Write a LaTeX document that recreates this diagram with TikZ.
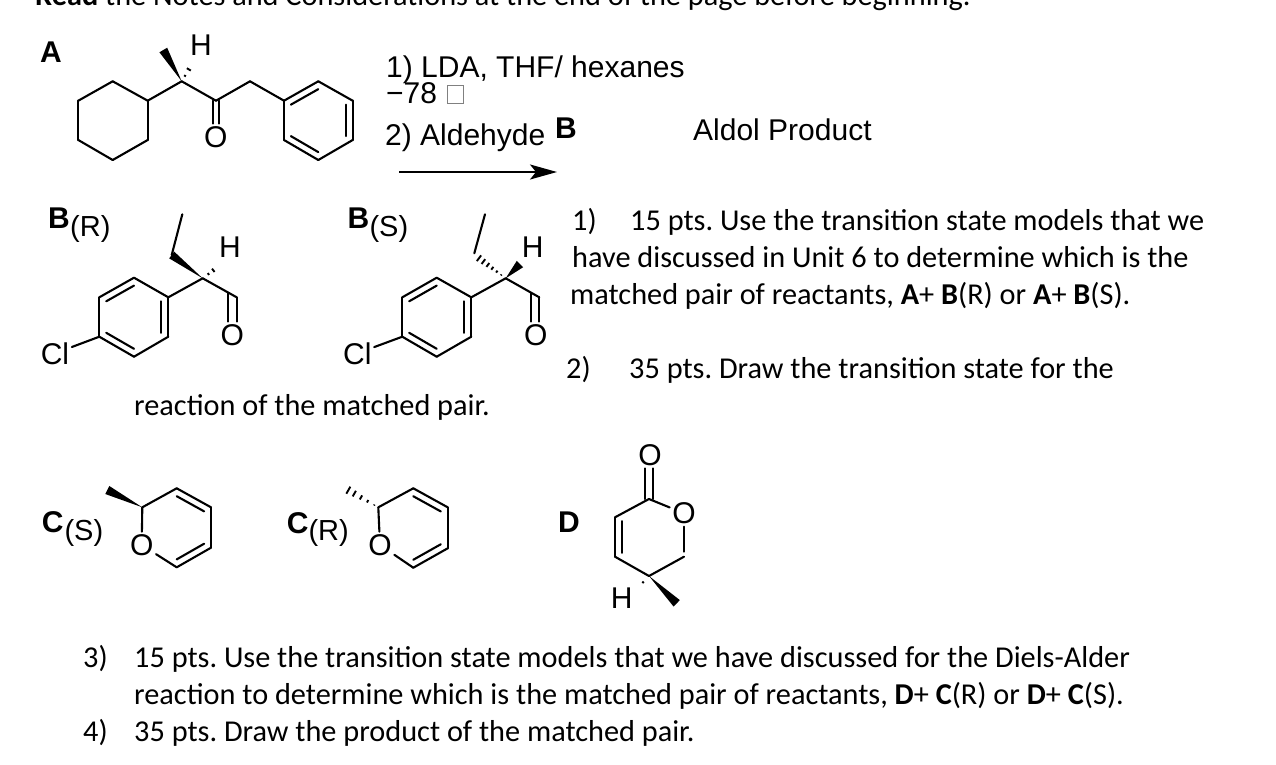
\documentclass[tikz,border=0pt]{standalone}
\usepackage{fontspec}
\usepackage{tikz}
\usetikzlibrary{calc,arrows.meta}
\setmainfont{Carlito}
\newfontfamily\chemfont{Liberation Sans}

\newcommand{\ringbond}[3]{\draw[bond] ($(#1)!0.2!(#3)$) -- ($(#2)!0.2!(#3)$);}
\newcommand{\wedgebond}[3]{\fill[line join=round] (#1) -- ($(#2)!#3!90:(#1)$) -- ($(#2)!#3!-90:(#1)$) -- cycle;}
\newcommand{\hashbond}[4]{\foreach \t in {#4} {
		\coordinate (hashc) at ($(#1)!\t!(#2)$);
		\draw[line width=1.9pt] ($(hashc)!\t*#3!90:(#2)$) -- ($(hashc)!\t*#3!-90:(#2)$);}}

\begin{document}
\frenchspacing
\begin{tikzpicture}[x=1pt,y=-1pt,
		bond/.style={line width=2.1pt,line cap=round,line join=round},
		atom/.style={font=\chemfont\fontsize{30}{32}\selectfont,inner sep=2.5pt},
		body/.style={anchor=base west,inner sep=0pt,yshift=-1pt,font=\fontsize{30.3}{34}\selectfont},
		reagent/.style={anchor=base west,inner sep=0pt,font=\chemfont\fontsize{30}{32}\selectfont},
		tag/.style={anchor=base west,inner sep=0pt,yshift=-1pt,font=\chemfont\bfseries\fontsize{30}{32}\selectfont},
		subtag/.style={anchor=base west,inner sep=0pt,font=\chemfont\fontsize{29}{31}\selectfont}]
	\useasboundingbox (0,0) rectangle (1276,764);

	\node[body] (header) at (35,4) {\textbf{Read} the Notes and Considerations at the end of the page before beginning.};

	\node[tag] (tagA) at (40,61.7) {A};
	\coordinate (a1) at (112.7,81.3);
	\coordinate (a2) at (147.7,100.7);
	\coordinate (a3) at (147.7,140);
	\coordinate (a4) at (112.7,160);
	\coordinate (a5) at (78.3,140);
	\coordinate (a6) at (78.3,100.7);
	\coordinate (a7) at (181.7,81.3);
	\coordinate (a8) at (216,100.7);
	\coordinate (a9) at (250,81.3);
	\coordinate (a10) at (284,100.7);
	\coordinate (a11) at (318.3,81.3);
	\coordinate (a12) at (352.7,100.7);
	\coordinate (a13) at (352.7,140);
	\coordinate (a14) at (318.3,160);
	\coordinate (a15) at (284,140);
	\coordinate (aC) at (318.3,120.5);
	\coordinate (aMe) at (163.3,50);
	\coordinate (aHash) at (192.7,63);
	\node[atom] (aH) at (201,45) {H};
	\node[atom] (aO) at (215.7,137) {O};
	\path[bond]
	(a1) edge (a2) (a2) edge (a3) (a3) edge (a4) (a4) edge (a5) (a5) edge (a6) (a6) edge (a1)
	(a2) edge (a7) (a7) edge (a8) (a8) edge (a9) (a9) edge (a10)
	(a10) edge (a11) (a11) edge (a12) (a12) edge (a13) (a13) edge (a14) (a14) edge (a15) (a15) edge (a10)
	([xshift=-2.6pt]a8) edge ([xshift=-2.6pt]a8 |- aO.north)
	([xshift=2.6pt]a8) edge ([xshift=2.6pt]a8 |- aO.north);
	\ringbond{a10}{a11}{aC}
	\ringbond{a12}{a13}{aC}
	\ringbond{a14}{a15}{aC}
	\wedgebond{a7}{aMe}{4.5pt}
	\hashbond{a7}{aHash}{3.5pt}{0.3,0.65,1}

	\node[reagent] (reagentA) at (386,77) {1) LDA, THF/ hexanes};
	\node[reagent] (reagentB) at (386,103.3) {−78};
	\node[draw=gray,line width=.8pt,inner sep=0pt,minimum width=15.5pt,minimum height=17.5pt] (degBox) at (455.5,94.5) {};
	\node[reagent] (reagentC) at (385,145) {2) Aldehyde};
	\node[tag] (tagArrow) at (555,137) {B};
	\node[reagent] (aldol) at (693,140) {Aldol Product};
	\coordinate (arrowStart) at (399,172);
	\coordinate (arrowEnd) at (557,172);
	\draw[line width=2pt,-{Stealth[length=27pt,width=15pt,inset=6pt]}] (arrowStart) -- (arrowEnd);

	\node[tag] (tagBR) at (48,227) {B};
	\node[subtag] (subBR) at (70,236) {(R)};
	\coordinate (r1) at (134,277.7);
	\coordinate (r2) at (168.3,297.3);
	\coordinate (r3) at (168.3,336.7);
	\coordinate (r4) at (134,356.7);
	\coordinate (r5) at (99.3,336.7);
	\coordinate (r6) at (99.3,297.3);
	\coordinate (rC) at (134,317.2);
	\coordinate (r7) at (202.7,278.3);
	\coordinate (r8) at (236.7,297.3);
	\coordinate (r9) at (171.7,255);
	\coordinate (r10) at (182.3,214.3);
	\coordinate (rHash) at (219,266);
	\node[atom] (rH) at (230,246.7) {H};
	\node[atom] (rO) at (232.3,335) {O};
	\node[atom] (rCl) at (55,353.3) {Cl};
	\path[bond]
	(r1) edge (r2) (r2) edge (r3) (r3) edge (r4) (r4) edge (r5) (r5) edge (r6) (r6) edge (r1)
	(r5) edge (rCl) (r2) edge (r7) (r7) edge (r8) (r9) edge (r10)
	(r8) edge (r8 |- rO.north)
	([shift={(-8.4pt,4.4pt)}]r8) edge ([xshift=-8.4pt]r8 |- rO.north);
	\ringbond{r1}{r6}{rC}
	\ringbond{r2}{r3}{rC}
	\ringbond{r4}{r5}{rC}
	\wedgebond{r7}{r9}{4.2pt}
	\hashbond{r7}{rHash}{3.2pt}{0.35,0.65,1}

	\node[tag] (tagBS) at (347.3,227) {B};
	\node[subtag] (subBS) at (369.3,236) {(S)};
	\coordinate (s1) at (436.7,277.7);
	\coordinate (s2) at (471.3,297.3);
	\coordinate (s3) at (471.3,336.7);
	\coordinate (s4) at (436.7,356.7);
	\coordinate (s5) at (402.3,336.7);
	\coordinate (s6) at (402.3,297.3);
	\coordinate (sC) at (436.7,317.2);
	\coordinate (s7) at (505.7,278.3);
	\coordinate (s8) at (539.3,297.3);
	\coordinate (s9) at (474.3,253.3);
	\coordinate (s10) at (485,214.3);
	\coordinate (sTip) at (520,264);
	\coordinate (sHash) at (476,256);
	\node[atom] (sH) at (532.7,246.7) {H};
	\node[atom] (sO) at (535.7,335) {O};
	\node[atom] (sCl) at (357.3,353.3) {Cl};
	\path[bond]
	(s1) edge (s2) (s2) edge (s3) (s3) edge (s4) (s4) edge (s5) (s5) edge (s6) (s6) edge (s1)
	(s5) edge (sCl) (s2) edge (s7) (s7) edge (s8) (s9) edge (s10)
	(s8) edge (s8 |- sO.north)
	([shift={(-8.4pt,4.4pt)}]s8) edge ([xshift=-8.4pt]s8 |- sO.north);
	\ringbond{s1}{s6}{sC}
	\ringbond{s2}{s3}{sC}
	\ringbond{s4}{s5}{sC}
	\wedgebond{s7}{sTip}{4.5pt}
	\hashbond{s7}{sHash}{4pt}{0.15,0.3,0.45,0.6,0.75,0.9,1}

	\node[body] (qOneNum) at (572,229) {1)};
	\node[body] (qOneA) at (630,229) {15 pts. Use the transition state models that we};
	\node[body] (qOneB) at (572,266) {have discussed in Unit 6 to determine which is the};
	\node[body] (qOneC) at (570,303) {matched pair of reactants, \textbf{A}+ \textbf{B}(R) or \textbf{A}+ \textbf{B}(S).};
	\node[body] (qTwoNum) at (566,377) {2)};
	\node[body] (qTwoA) at (629,377) {35 pts. Draw the transition state for the};
	\node[body] (qTwoB) at (134,414) {reaction of the matched pair.};

	\node[tag] (tagCS) at (41.7,531.7) {C};
	\node[subtag] (subCS) at (64.3,540) {(S)};
	\coordinate (p1) at (142.3,507.3);
	\coordinate (p2) at (176.7,488.3);
	\coordinate (p3) at (211,507.3);
	\coordinate (p4) at (211,547.7);
	\coordinate (p5) at (176.7,567.3);
	\coordinate (pC) at (176.7,527.7);
	\coordinate (pMe) at (107.3,490);
	\node[atom] (pO) at (141.7,545) {O};
	\path[bond]
	(pO) edge (p1) (p1) edge (p2) (p2) edge (p3) (p3) edge (p4) (p4) edge (p5) (p5) edge (pO);
	\ringbond{p2}{p3}{pC}
	\ringbond{p4}{p5}{pC}
	\wedgebond{p1}{pMe}{4.5pt}

	\node[tag] (tagCR) at (286.7,532.7) {C};
	\node[subtag] (subCR) at (308.3,540.7) {(R)};
	\coordinate (q1) at (378.3,507.3);
	\coordinate (q2) at (413.3,488.3);
	\coordinate (q3) at (447.7,507.3);
	\coordinate (q4) at (447.7,548.3);
	\coordinate (q5) at (413.3,567.7);
	\coordinate (qC) at (413.3,528);
	\coordinate (qMe) at (345,488.3);
	\node[atom] (qO) at (380,545) {O};
	\path[bond]
	(qO) edge (q1) (q1) edge (q2) (q2) edge (q3) (q3) edge (q4) (q4) edge (q5) (q5) edge (qO);
	\ringbond{q2}{q3}{qC}
	\ringbond{q4}{q5}{qC}
	\hashbond{q1}{qMe}{4.5pt}{0.12,0.32,0.52,0.72,0.9,1}

	\node[tag] (tagD) at (558,531.7) {D};
	\coordinate (d1) at (649,499);
	\coordinate (d2) at (615,517.3);
	\coordinate (d3) at (615,556.7);
	\coordinate (d4) at (649,576);
	\coordinate (d5) at (684,556.7);
	\coordinate (dC) at (649,537);
	\coordinate (dMe) at (676.7,603.3);
	\coordinate (dHash) at (632,594);
	\node[atom] (dO) at (650,455) {O};
	\node[atom] (dRing) at (684,513.3) {O};
	\node[atom] (dH) at (621.7,598.3) {H};
	\path[bond]
	(d1) edge (d2) (d2) edge (d3) (d3) edge (d4) (d4) edge (d5) (d1) edge (dRing)
	(dRing) edge[shorten >=5pt] (d5)
	([xshift=-3.8pt]d1) edge ([xshift=-3.8pt]d1 |- dO.south)
	([xshift=3.8pt]d1) edge ([xshift=3.8pt]d1 |- dO.south);
	\ringbond{d2}{d3}{dC}
	\wedgebond{d4}{dMe}{4.5pt}
	\hashbond{d4}{dHash}{3pt}{0.35,1}

	\node[body] (qThreeNum) at (83,666) {3)};
	\node[body] (qThreeA) at (134,666) {15 pts. Use the transition state models that we have discussed for the Diels-Alder};
	\node[body] (qThreeB) at (134,703) {reaction to determine which is the matched pair of reactants, \textbf{D}+ \textbf{C}(R) or \textbf{D}+ \textbf{C}(S).};
	\node[body] (qFourNum) at (83,740) {4)};
	\node[body] (qFourA) at (134,740) {35 pts. Draw the product of the matched pair.};
\end{tikzpicture}
\end{document}
